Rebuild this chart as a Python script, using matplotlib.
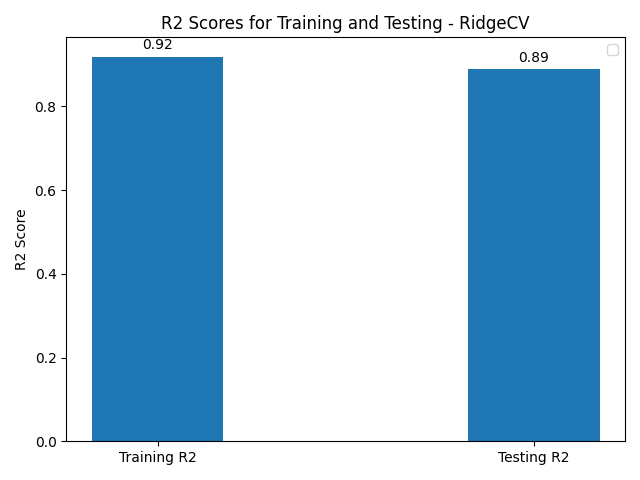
import matplotlib
matplotlib.use("Agg")
import matplotlib.pyplot as plt
import numpy as np

labels = ["Training R2", "Testing R2"]
scores = [0.919, 0.890]

fig, ax = plt.subplots(figsize=(6.4, 4.8), dpi=100)
x = np.arange(len(labels))
bars = ax.bar(x, scores, 0.35)
ax.set_ylabel("R2 Score")
ax.set_title("R2 Scores for Training and Testing - RidgeCV")
ax.set_xticks(x)
ax.set_xticklabels(labels)
ax.legend()
for b in bars:
    h = b.get_height()
    ax.annotate(f"{h:.2f}", xy=(b.get_x() + b.get_width() / 2, h),
                xytext=(0, 3), textcoords="offset points", ha="center", va="bottom")
fig.tight_layout()
fig.savefig("out.png")
